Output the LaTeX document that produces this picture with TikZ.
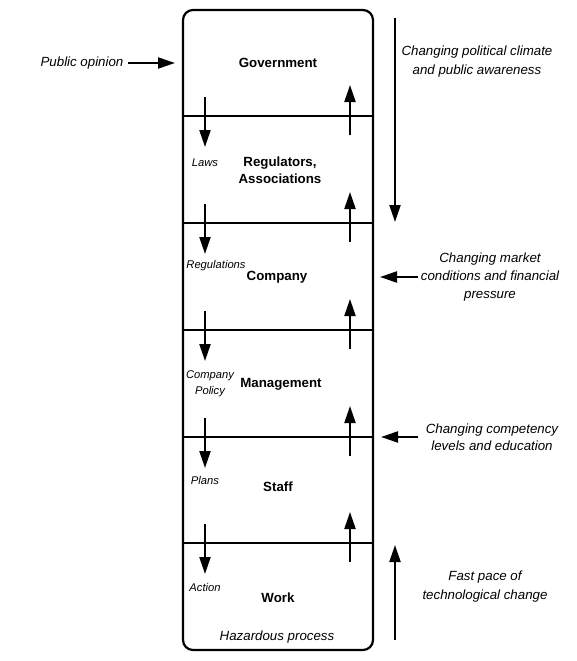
\documentclass[tikz,border=0pt]{standalone}
\usepackage{fontspec}
\setmainfont{Liberation Sans}
\usetikzlibrary{arrows.meta}
\begin{document}
\begin{tikzpicture}[x=1pt,y=-1pt,line width=2.2pt,
  tip/.style={-{Triangle[length=17pt,width=11pt]}},
  layer/.style={font=\fontsize{13.3}{17}\selectfont\bfseries,align=center},
  flow/.style={font=\fontsize{11.2}{16}\selectfont\itshape,align=center},
  remark/.style={font=\fontsize{13.3}{19}\selectfont\itshape,align=center}]
\useasboundingbox (0,0) rectangle (577,661);
%\draw[thin,dashed,step=50] (0,0) grid (577,661);
\draw[rounded corners=10pt] (183,10) rectangle (373,650);
\draw (183,116) -- (373,116);
\draw (183,223) -- (373,223);
\draw (183,330) -- (373,330);
\draw (183,437) -- (373,437);
\draw (183,543) -- (373,543);

% down: orders, up: feedback
\draw[tip] (205,97) -- (205,147);
\draw[tip] (205,204) -- (205,254);
\draw[tip] (205,311) -- (205,361);
\draw[tip] (205,418) -- (205,468);
\draw[tip] (205,524) -- (205,574);
\draw[tip] (350,135) -- (350,85);
\draw[tip] (350,242) -- (350,192);
\draw[tip] (350,349) -- (350,299);
\draw[tip] (350,456) -- (350,406);
\draw[tip] (350,562) -- (350,512);

\node[layer] (gov) at (278,63) {Government};
\node[layer] (reg) at (280,170) {Regulators,\\Associations};
\node[layer] (com) at (277,277) {Company};
\node[layer] (man) at (281,384) {Management};
\node[layer] (sta) at (278,487) {Staff};
\node[layer] (wor) at (278,598) {Work};
\node[remark] (haz) at (277,637) {Hazardous process};

\node[flow] (laws) at (205,163) {Laws};
\node[flow] (regs) at (216,266) {Regulations};
\node[flow] (pol) at (210,384) {Company\\Policy};
\node[flow] (pla) at (205,480) {Plans};
\node[flow] (act) at (205,587) {Action};

\node[remark] (pub) at (82,63) {Public opinion};
\draw[tip] (pub.east) -- (175,63);

\node[remark] (clim) at (477,62) {Changing political climate\\and public awareness};
\draw[tip] (395,18) -- (395,222);
\node[remark,font=\fontsize{13.3}{18}\selectfont\itshape] (mark) at (490,277) {Changing market\\conditions and financial\\pressure};
\draw[tip] (418,277) -- (380,277);
\node[remark,font=\fontsize{13.3}{17}\selectfont\itshape] (comp) at (492,437) {Changing competency\\levels and education};
\draw[tip] (418,437) -- (381,437);
\node[remark] (tech) at (485,587) {Fast pace of\\technological change};
\draw[tip] (395,640) -- (395,545);
\end{tikzpicture}
\end{document}
